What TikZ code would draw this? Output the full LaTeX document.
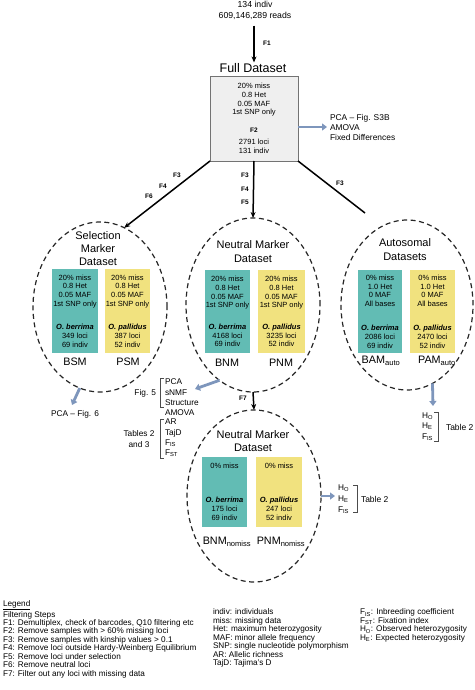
\documentclass[tikz,border=0pt]{standalone}
\usepackage{fontspec}
\setmainfont{Liberation Sans}
\usetikzlibrary{shapes.geometric,arrows.meta,calc}
\definecolor{tealbox}{HTML}{62BCB4}
\definecolor{yelbox}{HTML}{F1E27F}
\definecolor{graybox}{HTML}{EFEFEF}
\definecolor{arrblue}{HTML}{7E96BC}
\newcommand{\myfs}[2]{\fontsize{#1pt}{#2pt}\selectfont}
\begin{document}
\begin{tikzpicture}[x=1pt,y=-1pt,
  every node/.style={inner sep=0pt, outer sep=0pt},
  dsell/.style={ellipse, draw=black!85, line width=1.2pt, dash pattern=on 5pt off 3.5pt},
  fullbox/.style={draw=black!55, fill=graybox, line width=0.6pt, minimum width=88, minimum height=85, align=center, font=\myfs{7.5}{8.7}},
  tbox/.style={fill=tealbox, align=center, font=\myfs{7.5}{8.8}},
  ybox/.style={fill=yelbox, align=center, font=\myfs{7.5}{8.8}},
  dtitle/.style={align=center, font=\myfs{11}{13.3}},
  dlabel/.style={font=\myfs{10.8}{13}},
  flab/.style={font=\bfseries\myfs{6.5}{8}},
  note/.style={align=left, font=\myfs{8.3}{10.3}},
  blk/.style={line width=1.5pt, -{Stealth[length=6pt, width=5pt]}},
  blkline/.style={line width=1.5pt},
  bluearr/.style={draw=arrblue, line width=2.8pt, -{Triangle[length=5pt, width=7pt]}},
  brk/.style={line width=0.6pt, draw=black!70},
  legtext/.style={align=left, anchor=north west, font=\myfs{8.2}{8.45}}
]
\useasboundingbox (0,0) rectangle (474,690);

% top
\node[align=center, font=\myfs{8.7}{11}] (reads) at (255,10.5) {134 indiv\\609,146,289 reads};
\node[font=\myfs{12.5}{14}] (fullT) at (253,68) {Full Dataset};
\node[fullbox] (full) at (254,118.5) {20\% miss\\0.8 Het\\0.05 MAF\\1st SNP only\\[9.3pt]{\bfseries\myfs{6.5}{8.7}F2}\\[3.3pt]2791 loci\\131 indiv};
\draw[blk] ([yshift=-6pt]reads.south -| full.north) -- ([yshift=1pt]fullT.north -| full.north);
\node[flab] (f1) at (267,43) {F1};

\node[note, anchor=west, font=\myfs{8.4}{10}] (pcaTxt) at (330,127) {PCA -- Fig. S3B\\AMOVA\\Fixed Differences};
\draw[bluearr] (full.east |- pcaTxt.west) -- ([xshift=-3pt]pcaTxt.west);

% ellipses
\node[dsell, minimum width=134, minimum height=170] (selE) at (100,307) {};
\node[dsell, minimum width=134, minimum height=174] (neuE) at (253,305) {};
\node[dsell, minimum width=132, minimum height=170] (autE) at (407,305) {};
\node[dsell, minimum width=134, minimum height=172] (nomE) at (254,496) {};

% connectors from full dataset
\draw[blk] (full.south west) -- (selE.73);
\node[flab] (f3a) at (177,175) {F3};
\node[flab] (f4a) at (163,186) {F4};
\node[flab] (f6a) at (149,196) {F6};
\draw[blk] (full.south) -- (neuE.north);
\node[flab] (f3b) at (245,175) {F3};
\node[flab] (f4b) at (245,189) {F4};
\node[flab] (f5b) at (245,202) {F5};
\coordinate (autEnd) at (365,213);
\draw[blkline] (full.south east) -- (autEnd);
\node[flab] (f3c) at (340,183) {F3};

% selection
\node[dtitle] (selT) at (98,248.5) {Selection\\Marker\\Dataset};
\node[tbox, minimum width=46, minimum height=84] (bsm) at (75,311) {20\% miss\\0.8 Het\\0.05 MAF\\1st SNP only\\[14.3pt]\textbf{\textit{O. berrima}}\\349 loci\\69 indiv};
\node[ybox, minimum width=45, minimum height=84] (psm) at (127.5,311) {20\% miss\\0.8 Het\\0.05 MAF\\1st SNP only\\[14.3pt]\textbf{\textit{O. pallidus}}\\387 loci\\52 indiv};
\node[dlabel] (bsmL) at (75,362) {BSM};
\node[dlabel] (psmL) at (128,362) {PSM};

% neutral
\node[dtitle] (neuT) at (253,251.5) {Neutral Marker\\Dataset};
\node[tbox, minimum width=45, minimum height=83] (bnm) at (227.5,311.5) {20\% miss\\0.8 Het\\0.05 MAF\\1st SNP only\\[12.5pt]\textbf{\textit{O. berrima}}\\4168 loci\\69 indiv};
\node[ybox, minimum width=47, minimum height=83] (pnm) at (281.5,311.5) {20\% miss\\0.8 Het\\0.05 MAF\\1st SNP only\\[12.5pt]\textbf{\textit{O. pallidus}}\\3235 loci\\52 indiv};
\node[dlabel] (bnmL) at (227,363) {BNM};
\node[dlabel] (pnmL) at (281,363) {PNM};

% autosomal
\node[dtitle] (autT) at (405,249.5) {Autosomal\\Datasets};
\node[tbox, minimum width=44, minimum height=83] (bam) at (380,311.5) {0\% miss\\1.0 Het\\0 MAF\\All bases\\[15pt]\textbf{\textit{O. berrima}}\\2086 loci\\69 indiv};
\node[ybox, minimum width=45, minimum height=83] (pam) at (432.5,311.5) {0\% miss\\1.0 Het\\0 MAF\\All bases\\[15pt]\textbf{\textit{O. pallidus}}\\2470 loci\\52 indiv};
\node[dlabel] (bamL) at (381,361) {BAM\textsubscript{auto}};
\node[dlabel] (pamL) at (437,361) {PAM\textsubscript{auto}};

% nomiss
\node[dtitle] (nomT) at (253,441) {Neutral Marker\\Dataset};
\node[tbox, minimum width=45, minimum height=70] (bnmn) at (224.5,492) {0\% miss\\[25pt]\textbf{\textit{O. berrima}}\\175 loci\\69 indiv};
\node[ybox, minimum width=46, minimum height=70] (pnmn) at (279,492) {0\% miss\\[25pt]\textbf{\textit{O. pallidus}}\\247 loci\\52 indiv};
\node[dlabel] (bnmnL) at (227,542) {BNM\textsubscript{nomiss}};
\node[dlabel] (pnmnL) at (281,542) {PNM\textsubscript{nomiss}};

\draw[blk] (neuE.south) -- (nomE.north);
\node[flab] (f7) at (243,398) {F7};

% analyses annotations
\node[note] (pca6) at (75,414) {PCA -- Fig. 6};
\coordinate (pca6arr) at (72,405);
\draw[bluearr] (selE.256) -- (pca6arr);

\node[note, anchor=west] (fig5list) at (165,397.5) {PCA\\sNMF\\Structure\\AMOVA};
\node[note, anchor=west] (tablist) at (165,438) {AR\\TajD\\F\textsubscript{IS}\\F\textsubscript{ST}};
\node[note, anchor=east] (fig5) at (156,393) {Fig. 5};
\node[note, align=center] (tab23) at (139,439) {Tables 2\\and 3};
\draw[brk] (164,378) -- (160,378) -- (160,407) -- (164,407);
\draw[brk] (164,419) -- (160,419) -- (160,458) -- (164,458);
\coordinate (fig5arr) at (195,389);
\draw[bluearr] (neuE.246) -- (fig5arr);

\node[note, anchor=west, font=\myfs{8.3}{10.5}] (hAut) at (422,426.5) {H\textsubscript{O}\\H\textsubscript{E}\\F\textsubscript{IS}};
\node[note, anchor=west, font=\myfs{8.5}{10}] (tab2a) at (446,427) {Table 2};
\draw[brk] (434,412) -- (438,412) -- (438,441) -- (434,441);
\coordinate (autarr) at (433,406);
\draw[bluearr] (autE.288) -- (autarr);

\node[note, anchor=west, font=\myfs{8.3}{11}] (hNom) at (338,499) {H\textsubscript{O}\\H\textsubscript{E}\\F\textsubscript{IS}};
\node[note, anchor=west, font=\myfs{8.5}{10}] (tab2b) at (361,499) {Table 2};
\draw[brk] (353,485) -- (357,485) -- (357,512) -- (353,512);
\draw[bluearr] (nomE.east) -- ([xshift=-3pt]nomE.east -| hNom.west);

% legend
\node[legtext] (leg1) at (3,600.5) {\underline{Legend}\\Filtering Steps\\F1: Demultiplex, check of barcodes, Q10 filtering etc\\F2: Remove samples with > 60\% missing loci\\F3: Remove samples with kinship values > 0.1\\F4: Remove loci outside Hardy-Weinberg Equilibrium\\F5: Remove loci under selection\\F6: Remove neutral loci\\F7: Filter out any loci with missing data};
\node[legtext] (leg2) at (213,609) {indiv: individuals\\miss: missing data\\Het: maximum heterozygosity\\MAF: minor allele frequency\\SNP: single nucleotide polymorphism\\AR: Allelic richness\\TajD: Tajima's D};
\node[legtext] (leg3) at (360,609) {F\textsubscript{IS}: Inbreeding coefficient\\F\textsubscript{ST}: Fixation index\\H\textsubscript{O}: Observed heterozygosity\\H\textsubscript{E}: Expected heterozygosity};
\end{tikzpicture}
\end{document}
